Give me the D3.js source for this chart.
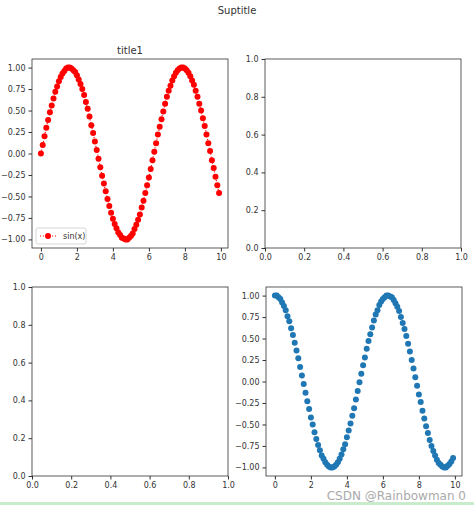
<!DOCTYPE html><html><head><meta charset="utf-8"><script src="https://cdn.jsdelivr.net/npm/d3@7"></script>
<style>body{margin:0;background:#fff}text{font-family:"DejaVu Sans";fill:#333}</style></head><body><svg id="c" width="474" height="505"></svg><script>
const xs=[0.0,0.1,0.2,0.3,0.4,0.5,0.6,0.7,0.8,0.9,1.0,1.1,1.2,1.3,1.4,1.5,1.6,1.7,1.8,1.9,2.0,2.1,2.2,2.3,2.4,2.5,2.6,2.7,2.8,2.9,3.0,3.1,3.2,3.3,3.4,3.5,3.6,3.7,3.8,3.9,4.0,4.1,4.2,4.3,4.4,4.5,4.6,4.7,4.8,4.9,5.0,5.1,5.2,5.3,5.4,5.5,5.6,5.7,5.8,5.9,6.0,6.1,6.2,6.3,6.4,6.5,6.6,6.7,6.8,6.9,7.0,7.1,7.2,7.3,7.4,7.5,7.6,7.7,7.8,7.9,8.0,8.1,8.2,8.3,8.4,8.5,8.6,8.7,8.8,8.9,9.0,9.1,9.2,9.3,9.4,9.5,9.6,9.7,9.8,9.9];
const sinVals=[0.00,0.10,0.20,0.30,0.39,0.48,0.56,0.64,0.72,0.78,0.84,0.89,0.93,0.96,0.99,1.00,1.00,0.99,0.97,0.95,0.91,0.86,0.81,0.75,0.68,0.60,0.52,0.43,0.33,0.24,0.14,0.04,-0.06,-0.16,-0.26,-0.35,-0.44,-0.53,-0.61,-0.69,-0.76,-0.82,-0.87,-0.92,-0.95,-0.98,-0.99,-1.00,-1.00,-0.98,-0.96,-0.93,-0.88,-0.83,-0.77,-0.71,-0.63,-0.55,-0.46,-0.37,-0.28,-0.18,-0.08,0.02,0.12,0.22,0.31,0.40,0.49,0.58,0.66,0.73,0.79,0.85,0.90,0.94,0.97,0.99,1.00,1.00,0.99,0.97,0.94,0.90,0.85,0.80,0.73,0.66,0.58,0.50,0.41,0.32,0.22,0.12,0.03,-0.08,-0.17,-0.27,-0.37,-0.46];
const cosVals=[1.00,1.00,0.98,0.96,0.92,0.88,0.83,0.76,0.70,0.62,0.54,0.45,0.36,0.27,0.17,0.07,-0.03,-0.13,-0.23,-0.32,-0.42,-0.50,-0.59,-0.67,-0.74,-0.80,-0.86,-0.90,-0.94,-0.97,-0.99,-1.00,-1.00,-0.99,-0.97,-0.94,-0.90,-0.85,-0.79,-0.73,-0.65,-0.57,-0.49,-0.40,-0.31,-0.21,-0.11,-0.01,0.09,0.19,0.28,0.38,0.47,0.55,0.63,0.71,0.78,0.83,0.89,0.93,0.96,0.98,1.00,1.00,0.99,0.98,0.95,0.91,0.87,0.82,0.75,0.68,0.61,0.53,0.44,0.35,0.25,0.15,0.05,-0.05,-0.15,-0.24,-0.34,-0.43,-0.52,-0.60,-0.68,-0.75,-0.81,-0.86,-0.91,-0.95,-0.97,-0.99,-1.00,-1.00,-0.98,-0.96,-0.93,-0.89];
const dataTicksX=[0,2,4,6,8,10];
const dataTicksY=[-1,-0.75,-0.5,-0.25,0,0.25,0.5,0.75,1];
const unitTicks=[0,0.2,0.4,0.6,0.8,1.0];
const svg=d3.select("#c");
svg.append("text").attr("x",237).attr("y",14).attr("text-anchor","middle").attr("font-size",10).text("Suptitle");
const W=196,H=189;
function panel(x0,y0,xd,yd,xt,yt,fmtX,fmtY){
  const g=svg.append("g").attr("transform",`translate(${x0},${y0})`);
  const x=d3.scaleLinear().domain(xd).range([0,W]);
  const y=d3.scaleLinear().domain(yd).range([H,0]);
  const ax=g.append("g").attr("transform",`translate(0,${H})`).call(d3.axisBottom(x).tickValues(xt).tickFormat(fmtX).tickSize(3.5).tickPadding(3));
  const ay=g.append("g").call(d3.axisLeft(y).tickValues(yt).tickFormat(fmtY).tickSize(3.5).tickPadding(3));
  [ax,ay].forEach(a=>{a.selectAll("text").attr("font-size",8).attr("fill","#333").style("font-family","DejaVu Sans");a.select(".domain").remove();a.selectAll("line").attr("stroke","#333");});
  g.append("rect").attr("width",W).attr("height",H).attr("fill","none").attr("stroke","#333").attr("stroke-width",0.8);
  return {g,x,y};
}
const f2=d3.format(".2f"), fd=d3.format("d"), f1=d3.format(".1f");
const fneg=v=>f2(v).replace("-","−");
const p1=panel(32,59,[-0.495,10.395],[-1.1,1.1],dataTicksX,dataTicksY,fd,fneg);
p1.g.append("text").attr("x",W/2).attr("y",-5).attr("text-anchor","middle").attr("font-size",10).text("title1");
p1.g.append("path").datum(xs.map((v,i)=>[v,sinVals[i]])).attr("d",d3.line().x(d=>p1.x(d[0])).y(d=>p1.y(d[1]))).attr("fill","none").attr("stroke","red").attr("stroke-width",1.2).attr("stroke-dasharray","1,2");
p1.g.selectAll("circle.s").data(xs).join("circle").attr("cx",d=>p1.x(d)).attr("cy",(d,i)=>p1.y(sinVals[i])).attr("r",3).attr("fill","red");
const lg=p1.g.append("g").attr("transform",`translate(4,${H-20})`);
lg.append("rect").attr("width",50).attr("height",16).attr("rx",2).attr("fill","#fff").attr("stroke","#ccc").attr("stroke-width",0.8);
lg.append("line").attr("x1",4).attr("x2",20).attr("y1",8).attr("y2",8).attr("stroke","red").attr("stroke-dasharray","1,2");
lg.append("circle").attr("cx",12).attr("cy",8).attr("r",3).attr("fill","red");
lg.append("text").attr("x",27).attr("y",11).attr("font-size",8).text("sin(x)");
panel(265,59,[0,1],[0,1],unitTicks,unitTicks,f1,f1);
panel(32,287,[0,1],[0,1],unitTicks,unitTicks,f1,f1);
const p4=panel(266,287,[-0.495,10.395],[-1.1,1.1],dataTicksX,dataTicksY,fd,fneg);
p4.g.selectAll("circle.c").data(xs).join("circle").attr("cx",d=>p4.x(d)).attr("cy",(d,i)=>p4.y(cosVals[i])).attr("r",3).attr("fill","#1f77b4");
svg.append("text").attr("x",466).attr("y",500).attr("text-anchor","end").attr("font-size",12).style("fill","#aaa").text("CSDN @Rainbowman 0");
svg.append("rect").attr("x",0).attr("y",502).attr("width",474).attr("height",3).attr("fill","#c8eccb");
</script></body></html>
